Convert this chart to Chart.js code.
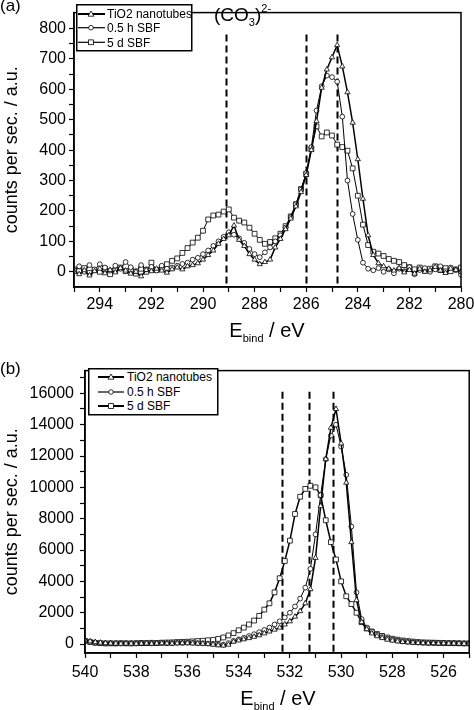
<!DOCTYPE html>
<html>
<head>
<meta charset="utf-8">
<script src="https://cdn.jsdelivr.net/npm/chart.js@4.4.0/dist/chart.umd.min.js"></script>
<style>
  body { margin: 0; background: #fff; width: 474px; height: 710px; overflow: hidden; position: relative; font-family: "Liberation Sans", Arial, sans-serif; color: #000; }
  .box { position: absolute; left: 0; width: 474px; }
  .lbl { position: absolute; white-space: nowrap; line-height: 1; }
  .sub { position: relative; top: 5px; font-size: 11px; }
  .legend { position: absolute; }
</style>
</head>
<body>
<div class="box" style="top:0;height:345px"><canvas id="chartA"></canvas></div>
<div class="box" style="top:355px;height:355px"><canvas id="chartB"></canvas></div>

<div class="lbl" style="left:0;top:-3px;font-size:17px">(a)</div>
<div class="lbl" style="left:0;top:360px;font-size:17px">(b)</div>
<div class="lbl" style="left:214px;top:5px;font-size:19px">(CO<span style="font-size:11px;position:relative;top:5px">3</span>)<span style="font-size:11px;position:relative;top:-9px">2-</span></div>
<div class="lbl" style="left:167px;width:200px;text-align:center;top:320px;font-size:20px">E<span class="sub">bind</span> / eV</div>
<div class="lbl" style="left:178px;width:200px;text-align:center;top:688px;font-size:20px">E<span class="sub">bind</span> / eV</div>

<svg class="legend" style="left:76px;top:4px" width="117" height="48">
  <rect x="0.75" y="0.75" width="115" height="46" fill="#fff" stroke="#000" stroke-width="1.5"/>
  <line x1="2" y1="10" x2="29" y2="10" stroke="#000" stroke-width="2"/>
  <polygon points="15,7 18,12.2 12,12.2" fill="#fff" stroke="#000" stroke-width="0.8"/>
  <text x="31" y="14.3" font-size="12" font-family="Liberation Sans, Arial">TiO2 nanotubes</text>
  <line x1="2" y1="23.7" x2="29" y2="23.7" stroke="#000" stroke-width="1.2"/>
  <circle cx="15" cy="23.7" r="2.3" fill="#fff" stroke="#000" stroke-width="0.8"/>
  <text x="31" y="28" font-size="12" font-family="Liberation Sans, Arial">0.5 h SBF</text>
  <line x1="2" y1="38.3" x2="29" y2="38.3" stroke="#000" stroke-width="1.2"/>
  <rect x="12.6" y="35.9" width="4.8" height="4.8" fill="#fff" stroke="#000" stroke-width="0.8"/>
  <text x="31" y="42.6" font-size="12" font-family="Liberation Sans, Arial">5 d SBF</text>
</svg>

<svg class="legend" style="left:88px;top:368px" width="131" height="48">
  <rect x="0.75" y="0.75" width="129" height="46" fill="#fff" stroke="#000" stroke-width="1.5"/>
  <line x1="10" y1="9" x2="36" y2="9" stroke="#000" stroke-width="2"/>
  <polygon points="23,6 26,11.2 20,11.2" fill="#fff" stroke="#000" stroke-width="0.8"/>
  <text x="39" y="13.3" font-size="12" font-family="Liberation Sans, Arial">TiO2 nanotubes</text>
  <line x1="10" y1="24" x2="36" y2="24" stroke="#000" stroke-width="1.2"/>
  <circle cx="23" cy="24" r="2.3" fill="#fff" stroke="#000" stroke-width="0.8"/>
  <text x="39" y="28.3" font-size="12" font-family="Liberation Sans, Arial">0.5 h SBF</text>
  <line x1="10" y1="38" x2="36" y2="38" stroke="#000" stroke-width="2"/>
  <rect x="20.6" y="35.6" width="4.8" height="4.8" fill="#fff" stroke="#000" stroke-width="0.8"/>
  <text x="39" y="42.3" font-size="12" font-family="Liberation Sans, Arial">5 d SBF</text>
</svg>

<script>
// ---------------------
// panel (a): C 1s region
// ---------------------
const energyA = [
  295.0, 294.8, 294.6, 294.4, 294.2, 294.0, 293.8, 293.6, 293.4, 293.2,
  293.0, 292.8, 292.6, 292.4, 292.2, 292.0, 291.8, 291.6, 291.4, 291.2,
  291.0, 290.8, 290.6, 290.4, 290.2, 290.0, 289.8, 289.6, 289.4, 289.2,
  289.0, 288.8, 288.6, 288.4, 288.2, 288.0, 287.8, 287.6, 287.4, 287.2,
  287.0, 286.8, 286.6, 286.4, 286.2, 286.0, 285.8, 285.6, 285.4, 285.2,
  285.0, 284.8, 284.6, 284.4, 284.2, 284.0, 283.8, 283.6, 283.4, 283.2,
  283.0, 282.8, 282.6, 282.4, 282.2, 282.0, 281.8, 281.6, 281.4, 281.2,
  281.0, 280.8, 280.6, 280.4, 280.2, 280.0
];
const tio2A = [
  0, -8, 5, -12, 2, 10, -5, 6, -2, 12,
  4, -6, 0, -15, 6, 2, 10, 4, -3, 8,
  14, 8, 18, 22, 28, 40, 55, 70, 92, 108,
  120, 152, 105, 85, 58, 40, 25, 32, 40, 80,
  108, 140, 175, 215, 262, 318, 400, 495, 605, 665,
  705, 745, 675, 590, 490, 370, 240, 120, 55, 28,
  18, 10, 4, 12, -2, 6, -6, 10, 0, 5,
  16, 4, -4, 10, 6, 0
];
const sbf05hA = [
  5, 18, 0, 22, 8, 25, 14, 4, 20, 10,
  32, 15, 2, 22, 8, 16, 4, 20, 10, 14,
  20, 26, 30, 40, 46, 58, 70, 85, 100, 115,
  130, 122, 110, 95, 75, 58, 48, 64, 80, 100,
  120, 145, 180, 222, 270, 325, 410, 530, 610, 645,
  640, 625, 510, 300, 190, 105, 30, 10, 5, 12,
  0, 8, -5, 10, 2, 15, -8, 6, 12, 0,
  8, 18, 2, 14, 6, -10
];
const sbf5dA = [
  8, 2, 12, -4, 6, 0, 10, -8, 4, 14,
  2, 8, -6, 10, 0, 30, 6, 14, 25, 36,
  44, 62, 78, 96, 112, 135, 172, 185, 188, 198,
  205, 178, 168, 162, 145, 125, 105, 92, 98, 110,
  125, 150, 182, 222, 272, 322, 405, 478, 445, 458,
  448, 418, 410, 398, 340, 250, 155, 88, 66, 60,
  52, 42, 36, 32, 22, 15, 8, 14, 4, 10,
  18, 6, 12, 2, 8, 14
];
const dashA = [289.1, 286.0, 284.8];
const xTicksA = [280, 281, 282, 283, 284, 285, 286, 287, 288, 289, 290, 291, 292, 293, 294, 295];
const xLabelsA = [280, 282, 284, 286, 288, 290, 292, 294];
const yTicksA = [0, 50, 100, 150, 200, 250, 300, 350, 400, 450, 500, 550, 600, 650, 700, 750, 800];
const yLabelsA = [0, 100, 200, 300, 400, 500, 600, 700, 800];

// ---------------------
// panel (b): O 1s region
// ---------------------
const energyB = [
  540.0, 539.8, 539.6, 539.4, 539.2, 539.0, 538.8, 538.6, 538.4, 538.2,
  538.0, 537.8, 537.6, 537.4, 537.2, 537.0, 536.8, 536.6, 536.4, 536.2,
  536.0, 535.8, 535.6, 535.4, 535.2, 535.0, 534.8, 534.6, 534.4, 534.2,
  534.0, 533.8, 533.6, 533.4, 533.2, 533.0, 532.8, 532.6, 532.4, 532.2,
  532.0, 531.8, 531.6, 531.4, 531.2, 531.0, 530.8, 530.6, 530.4, 530.2,
  530.0, 529.8, 529.6, 529.4, 529.2, 529.0, 528.8, 528.6, 528.4, 528.2,
  528.0, 527.8, 527.6, 527.4, 527.2, 527.0, 526.8, 526.6, 526.4, 526.2,
  526.0, 525.8, 525.6, 525.4, 525.2, 525.0
];
const tio2B = [
  250, 180, 120, 90, 60, 40, 30, 20, 35, 25,
  15, 30, 40, 20, 35, 50, 40, 30, 45, 60,
  55, 40, 30, 20, 0, -40, -80, -100, -40, 150,
  230, 300, 380, 460, 560, 680, 800, 920, 1050, 1250,
  1450, 1750, 2100, 2600, 3500, 5500, 8800, 11800, 13800, 15000,
  12800, 10300, 6500, 2800, 1400, 950, 680, 500, 380, 280,
  220, 170, 130, 110, 90, 70, 60, 50, 60, 40,
  50, 30, 40, 30, 20, 30
];
const sbf05hB = [
  220, 150, 100, 70, 50, 40, 60, 30, 40, 50,
  30, 45, 60, 40, 55, 70, 50, 60, 80, 70,
  90, 80, 60, 50, 30, 10, -20, -40, 60, 200,
  300, 400, 510, 630, 760, 900, 1050, 1250, 1450, 1700,
  2000, 2400, 2900, 3600, 4800, 7000, 9500, 11800, 13300, 14000,
  12600, 10800, 7500, 3300, 1600, 1050, 800, 600, 450, 350,
  280, 220, 170, 140, 110, 90, 80, 70, 60, 70,
  50, 60, 40, 50, 40, 30
];
const sbf5dB = [
  200, 130, 80, 60, 40, 50, 40, 60, 50, 40,
  60, 70, 60, 80, 70, 90, 100, 110, 130, 140,
  150, 170, 190, 210, 240, 270, 330, 420, 550, 700,
  880, 1050, 1250, 1500, 1800, 2200, 2600, 3300, 4200, 5300,
  6600, 8300, 9400, 9900, 10100, 10000, 9500, 7900, 6500, 5400,
  4000, 3050, 2550, 2000, 1400, 1000, 800, 640, 520, 420,
  340, 280, 230, 190, 160, 130, 110, 100, 90, 80,
  70, 60, 60, 50, 40, 50
];
const dashB = [532.3, 531.25, 530.3];
const xTicksB = [525, 526, 527, 528, 529, 530, 531, 532, 533, 534, 535, 536, 537, 538, 539, 540];
const xLabelsB = [526, 528, 530, 532, 534, 536, 538, 540];
const yTicksB = [0, 1000, 2000, 3000, 4000, 5000, 6000, 7000, 8000, 9000, 10000, 11000, 12000, 13000, 14000, 15000, 16000, 17000];
const yLabelsB = [0, 2000, 4000, 6000, 8000, 10000, 12000, 14000, 16000];

const FONT = "'Liberation Sans', Arial, sans-serif";

// dashed reference lines + closed frame
const framePlugin = {
  id: "frame",
  beforeDatasetsDraw(chart, args, opts) {
    const ctx = chart.ctx, a = chart.chartArea;
    const x = chart.scales.x, y = chart.scales.y;
    ctx.save();
    ctx.strokeStyle = "#000";
    ctx.lineWidth = 2;
    ctx.setLineDash([7, 4]);
    opts.lines.forEach(v => {
      const px = Math.round(x.getPixelForValue(v)) + 0.5;
      ctx.beginPath();
      ctx.moveTo(px, y.getPixelForValue(opts.top));
      ctx.lineTo(px, a.bottom);
      ctx.stroke();
    });
    ctx.restore();
  },
  afterDraw(chart) {
    const ctx = chart.ctx, a = chart.chartArea;
    ctx.save();
    ctx.strokeStyle = "#000";
    ctx.lineWidth = 1.5;
    ctx.strokeRect(a.left, a.top, a.right - a.left, a.bottom - a.top);
    ctx.restore();
  }
};

function makeChart(id, cfg) {
  const series = [
    { label: "TiO2 nanotubes", y: cfg.tio2, style: "triangle", r: 3, w: 1.5 },
    { label: "0.5 h SBF", y: cfg.sbf05h, style: "circle", r: 2.4, w: 1 },
    { label: "5 d SBF", y: cfg.sbf5d, style: "rect", r: 3.4, w: cfg.w5d }
  ];

  return new Chart(document.getElementById(id), {
    type: "line",
    data: {
      datasets: series.map(s => ({
        label: s.label,
        data: cfg.energy.map((e, i) => ({ x: e, y: s.y[i] })),
        borderColor: "#000",
        borderWidth: s.w,
        pointStyle: s.style,
        pointRadius: s.r,
        pointBorderWidth: 0.8,
        pointBorderColor: "#000",
        pointBackgroundColor: "#fff",
        tension: 0,
        fill: false
      }))
    },
    options: {
      responsive: true,
      maintainAspectRatio: false,
      animation: false,
      layout: { padding: cfg.padding },
      plugins: {
        legend: { display: false },
        tooltip: { enabled: false },
        frame: { lines: cfg.dash, top: cfg.dashTop }
      },
      scales: {
        x: {
          type: "linear",
          reverse: true,
          min: cfg.xMin,
          max: cfg.xMax,
          afterFit: s => { s.height = cfg.xAxisH; },
          afterBuildTicks: s => { s.ticks = cfg.xTicks.map(v => ({ value: v })); },
          ticks: {
            autoSkip: false,
            maxRotation: 0,
            padding: cfg.xPad,
            color: "#000",
            font: { family: FONT, size: cfg.tickSize },
            callback: v => cfg.xLabels.includes(v) ? String(v) : ""
          },
          grid: { drawOnChartArea: false, tickLength: 5, tickColor: "#000", tickWidth: 1.2 },
          border: { color: "#000", width: 1.5 }
        },
        y: {
          min: cfg.yMin,
          max: cfg.yMax,
          afterFit: s => { s.width = cfg.yAxisW; },
          afterBuildTicks: s => { s.ticks = cfg.yTicks.map(v => ({ value: v })); },
          ticks: {
            autoSkip: false,
            padding: cfg.yPad,
            color: "#000",
            font: { family: FONT, size: cfg.tickSize },
            callback: v => cfg.yLabels.includes(v) ? String(v) : ""
          },
          grid: { drawOnChartArea: false, tickLength: 5, tickColor: "#000", tickWidth: 1.2 },
          border: { color: "#000", width: 1.5 },
          title: {
            display: true,
            text: "counts per sec. / a.u.",
            color: "#000",
            font: { family: FONT, size: 18 },
            padding: { top: 1, bottom: 0 }
          }
        }
      }
    },
    plugins: [framePlugin]
  });
}

makeChart("chartA", {
  energy: energyA, tio2: tio2A, sbf05h: sbf05hA, sbf5d: sbf5dA, w5d: 1,
  dash: dashA, dashTop: 780,
  xMin: 280, xMax: 295, yMin: -50, yMax: 852,
  xTicks: xTicksA, xLabels: xLabelsA, yTicks: yTicksA, yLabels: yLabelsA,
  padding: { top: 1, right: 13, left: 0, bottom: 0 },
  xAxisH: 58, yAxisW: 74, xPad: 3, yPad: 3, tickSize: 16
});

makeChart("chartB", {
  energy: energyB, tio2: tio2B, sbf05h: sbf05hB, sbf5d: sbf5dB, w5d: 1.5,
  dash: dashB, dashTop: 16100,
  xMin: 525, xMax: 540, yMin: -570, yMax: 17450,
  xTicks: xTicksB, xLabels: xLabelsB, yTicks: yTicksB, yLabels: yLabelsB,
  padding: { top: 12, right: 2, left: 0, bottom: 0 },
  xAxisH: 57, yAxisW: 85, xPad: 5, yPad: 6, tickSize: 16
});
</script>
</body>
</html>
